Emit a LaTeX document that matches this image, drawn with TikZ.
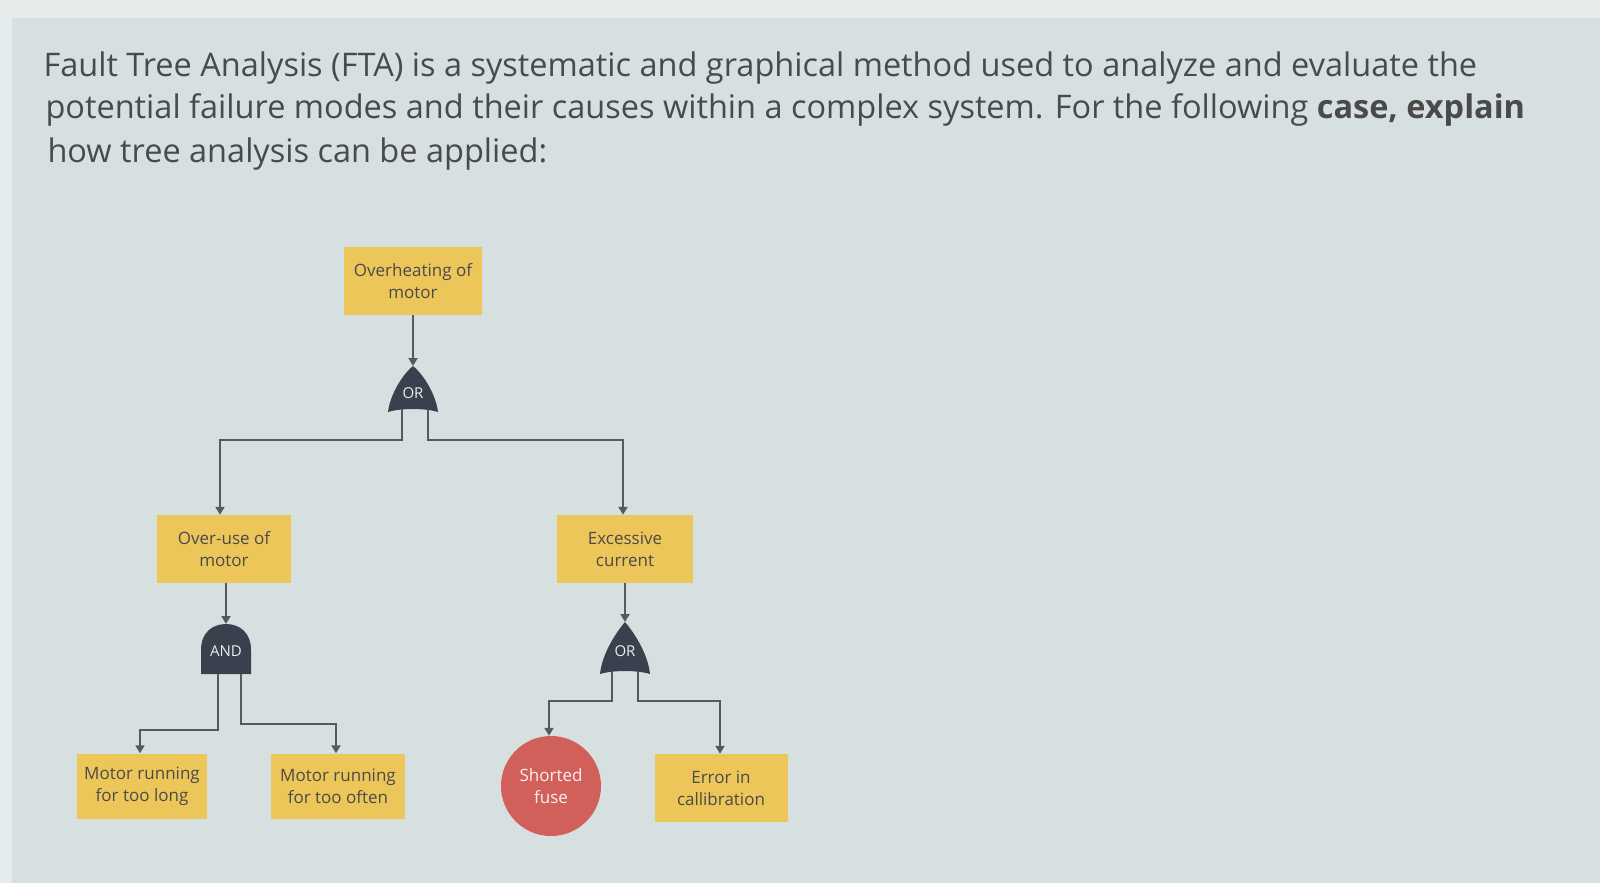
\documentclass[tikz,border=0pt]{standalone}
\usepackage{fontspec}
\setmainfont{Open Sans}
\usetikzlibrary{arrows.meta}
\definecolor{bg}{HTML}{D6E0E1}
\definecolor{edge}{HTML}{E6ECEC}
\definecolor{ev}{HTML}{EDC65A}
\definecolor{gate}{HTML}{3A414E}
\definecolor{fuse}{HTML}{D2605A}
\definecolor{txt}{HTML}{4A4A4A}
\definecolor{ln}{HTML}{555A60}
\tikzset{
 evbox/.style={fill=ev,text=txt,minimum width=#1,minimum height=68pt,align=center,font=\fontsize{17}{22}\selectfont,inner sep=0pt},
 conn/.style={draw=ln,line width=2.6pt,-{Triangle[length=8pt,width=9pt]}},
 gatefill/.style={fill=gate,draw=none},
 gatelbl/.style={text=white!85!gray,font=\fontsize{15}{15}\selectfont},
 para/.style={text=txt,anchor=base west,font=\fontsize{32.5}{40}\selectfont}
}
\begin{document}
\begin{tikzpicture}[x=1pt,y=-1pt]
\useasboundingbox (0,0) rectangle (1600,883);
\fill[edge] (0,0) rectangle (1600,883);
\fill[bg] (12,18) rectangle (1600,883);
% text
\node[para] (l1) at (40,77) {Fault Tree Analysis (FTA) is a systematic and graphical method used to analyze and evaluate the};
\node[para] (l2) at (42,118) {potential failure modes and their causes within a complex system. For the following \textbf{case, explain}};
\node[para] (l3) at (44,162) {how tree analysis can be applied:};
% events
\node[evbox=138pt] (top) at (413,281) {Overheating of\\motor};
\node[evbox=134pt] (over) at (224,549) {Over-use of\\motor};
\node[evbox=136pt] (exc) at (625,549) {Excessive\\current};
\node[evbox=130pt,minimum height=65pt] (long) at (142,786) {Motor running\\for too long};
\node[evbox=134pt,minimum height=65pt] (often) at (338,786) {Motor running\\for too often};
\node[circle,fill=fuse,minimum size=100pt,text=white!90!fuse,align=center,font=\fontsize{17}{22}\selectfont,inner sep=0pt] (fuse) at (551,786) {Shorted\\fuse};
\node[evbox=133pt] (err) at (721,788) {Error in\\callibration};
% gate 1 (OR)
\fill[gatefill] (388,412) .. controls (390,395) and (402,375) .. (413,366) .. controls (424,375) and (436,395) .. (438,412) .. controls (425,408) and (401,408) .. (388,412) -- cycle;
\node[gatelbl] (g1) at (413,393) {OR};
\coordinate (g1in) at (413,366);
\coordinate (g1l) at (402,409);
\coordinate (g1r) at (428,409);
% gate 2 (AND)
\fill[gatefill] (201,674) -- (201,650) .. controls (201,633) and (212,624) .. (226,624) .. controls (240,624) and (251,633) .. (251,650) -- (251,674) -- cycle;
\node[gatelbl] (g2) at (226,651) {AND};
\coordinate (g2in) at (226,624);
\coordinate (g2l) at (218,674);
\coordinate (g2r) at (241,674);
% gate 3 (OR)
\fill[gatefill] (600,674) .. controls (602,655) and (614,635) .. (625,622) .. controls (636,635) and (648,655) .. (650,674) .. controls (637,670) and (613,670) .. (600,674) -- cycle;
\node[gatelbl] (g3) at (625,651) {OR};
\coordinate (g3in) at (625,622);
\coordinate (g3l) at (612,671);
\coordinate (g3r) at (638,671);
% connectors
\draw[conn] (top.south) -- (g1in);
\draw[conn] (g1l) |- (220,440) -- (over.north -| 220,0);
\draw[conn] (g1r) |- (623,440) -- (exc.north -| 623,0);
\draw[conn] (over.south -| 226,0) -- (g2in);
\draw[conn] (g2l) |- (140,730) -- (long.north -| 140,0);
\draw[conn] (g2r) |- (336,724) -- (often.north -| 336,0);
\draw[conn] (exc.south) -- (g3in);
\draw[conn] (g3l) |- (549,701) -- (fuse.north -| 549,0);
\draw[conn] (g3r) |- (720,701) -- (err.north -| 720,0);
\end{tikzpicture}
\end{document}
